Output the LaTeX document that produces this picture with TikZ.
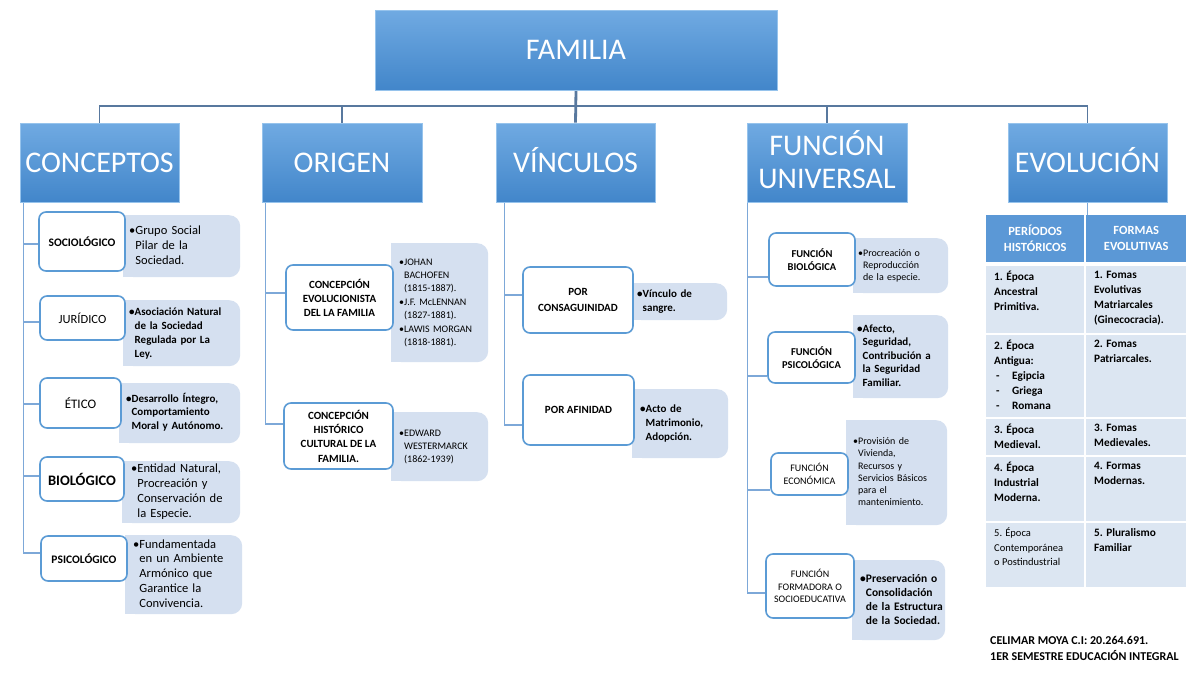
\documentclass[tikz,border=0pt]{standalone}
\usepackage{fontspec}
\setmainfont{Carlito}
\usetikzlibrary{backgrounds,calc}
\definecolor{descblue}{RGB}{213,224,240}
\definecolor{cborder}{RGB}{91,155,213}
\definecolor{treeline}{RGB}{125,168,216}
\definecolor{topline}{RGB}{88,120,158}
\definecolor{maintop}{RGB}{112,170,226}
\definecolor{mainbot}{RGB}{66,134,202}
\definecolor{mainedge}{RGB}{150,195,236}
\definecolor{hdrblue}{RGB}{91,152,214}
\definecolor{rowblue}{RGB}{220,230,242}
\newcommand\fsz[2]{\fontsize{#1}{#2}\selectfont}
\newcommand\bul[1]{\textbullet\begin{tabular}[t]{@{}l@{}}#1\end{tabular}}
\newcommand\tcell[3]{\parbox[t][#2][t]{#1}{\raggedright #3}}
\newcommand\dashit[1]{\makebox[18pt][l]{\hspace{2pt}-}#1}
\begin{document}
\begin{tikzpicture}[x=1pt,y=-1pt,
 mainbox/.style={rectangle, top color=maintop, bottom color=mainbot, draw=mainedge, line width=0.8pt, text=white, font=\fsz{30}{33}, align=center, inner sep=0pt, minimum height=79pt, minimum width=160pt},
 oneline/.style={text height=19.5pt, text depth=0pt},
 kidbox/.style={draw=cborder, line width=1.6pt, fill=white, rounded corners=7pt, align=center, inner sep=1pt},
 descbox/.style={fill=descblue, rounded corners=11pt, anchor=north west, inner ysep=0pt, align=left},
 hdrcell/.style={fill=hdrblue, text=white, anchor=north west, align=center, inner sep=0pt, font=\bfseries\fsz{12.5}{16}},
 rowcell/.style={fill=rowblue, anchor=north west, inner xsep=8pt, inner ysep=5pt, font=\bfseries\fsz{11.3}{15}},
 treeln/.style={draw=treeline, line width=1.2pt},
 topln/.style={draw=topline, line width=1.4pt},
 topthick/.style={draw=topline, line width=2.8pt},
]
\useasboundingbox (0,0) rectangle (1200,675);

% main boxes
\node[mainbox, oneline, minimum width=402pt, minimum height=80pt] (fam) at (576,50) {FAMILIA};
\node[mainbox, oneline, minimum width=159pt] (con) at (99.5,162.5) {CONCEPTOS};
\node[mainbox, oneline] (ori) at (342,162.5) {ORIGEN};
\node[mainbox, oneline, minimum width=159pt] (vin) at (575.5,162.5) {VÍNCULOS};
\node[mainbox, text height=52.5pt, text depth=0pt] (fun) at (827,162.5) {FUNCIÓN\\UNIVERSAL};
\node[mainbox, oneline, minimum width=159pt] (evo) at (1087.5,162.5) {EVOLUCIÓN};

% CONCEPTOS descriptions
\node[descbox, inner xsep=6pt, text width=105pt, minimum height=62pt, font=\fsz{12.5}{15}] (socd) at (123,215) {\bul{Grupo Social\\Pilar de la\\Sociedad.}};
\node[descbox, inner xsep=6pt, text width=105pt, minimum height=66pt, font=\bfseries\fsz{11}{14}] (jurd) at (123,300) {\bul{Asociación Natural\\de la Sociedad\\Regulada por La\\Ley.}};
\node[descbox, inner xsep=7pt, text width=107pt, minimum height=60pt, font=\bfseries\fsz{11}{13.5}] (etid) at (119,383) {\bul{Desarrollo Íntegro,\\Comportamiento\\Moral y Autónomo.}};
\node[descbox, inner xsep=9pt, text width=100pt, minimum height=62pt, font=\fsz{12.5}{15}] (biod) at (122,461) {\bul{Entidad Natural,\\Procreación y\\Conservación de\\la Especie.}};
\node[descbox, inner xsep=8pt, text width=101pt, minimum height=79pt, font=\fsz{12.5}{14.8}] (psid) at (125,535) {\bul{Fundamentada\\en un Ambiente\\Armónico que\\Garantice la\\Convivencia.}};

% CONCEPTOS children
\node[kidbox, minimum width=86pt, minimum height=59pt, font=\bfseries\fsz{11.5}{14}] (soc) at (82,241.5) {SOCIOLÓGICO};
\node[kidbox, minimum width=85pt, minimum height=44pt, font=\fsz{12.5}{15}] (jur) at (82.5,318) {JURÍDICO};
\node[kidbox, minimum width=81pt, minimum height=50pt, font=\fsz{13}{15}] (eti) at (80.5,403) {ÉTICO};
\node[kidbox, minimum width=84pt, minimum height=44pt, font=\bfseries\fsz{14.5}{17}] (bio) at (82,479) {BIOLÓGICO};
\node[kidbox, minimum width=86pt, minimum height=45pt, font=\bfseries\fsz{11.5}{14}] (psi) at (84,558.5) {PSICOLÓGICO};

% ORIGEN
\node[descbox, inner xsep=8pt, text width=81pt, minimum height=119pt, font=\fsz{10}{13}] (o1d) at (391,243) {\bul{JOHAN\\BACHOFEN\\(1815-1887).}\\\bul{J.F. McLENNAN\\(1827-1881).}\\\bul{LAWIS MORGAN\\(1818-1881).}};
\node[descbox, inner xsep=8pt, text width=81pt, minimum height=69pt, font=\fsz{10}{13}] (o2d) at (391,412) {\bul{EDWARD\\WESTERMARCK\\(1862-1939)}};
\node[kidbox, minimum width=107pt, minimum height=65pt, font=\bfseries\fsz{11}{14}] (o1) at (339.5,297.5) {CONCEPCIÓN\\EVOLUCIONISTA\\DEL LA FAMILIA};
\node[kidbox, minimum width=109pt, minimum height=66pt, font=\bfseries\fsz{11}{14.3}] (o2) at (338.5,436) {CONCEPCIÓN\\HISTÓRICO\\CULTURAL DE LA\\FAMILIA.};

% VINCULOS
\node[descbox, inner xsep=6pt, text width=84pt, minimum height=37pt, font=\bfseries\fsz{11}{13.5}] (v1d) at (631,283) {\bul{Vínculo de\\sangre.}};
\node[descbox, inner xsep=8pt, text width=80pt, minimum height=69pt, font=\bfseries\fsz{11}{14}] (v2d) at (632,389) {\bul{Acto de\\Matrimonio,\\Adopción.}};
\node[kidbox, minimum width=110pt, minimum height=66pt, font=\bfseries\fsz{11}{15.5}] (v1) at (578,300) {POR\\CONSAGUINIDAD};
\node[kidbox, minimum width=111pt, minimum height=70pt, font=\bfseries\fsz{11}{14}] (v2) at (578.5,410) {POR AFINIDAD};

% FUNCION
\node[descbox, inner xsep=5pt, text width=85pt, minimum height=55pt, font=\fsz{10}{12}] (f1d) at (853,238) {\bul{Procreación o\\Reproducción\\de la especie.}};
\node[descbox, inner xsep=4pt, text width=87pt, minimum height=83pt, font=\bfseries\fsz{11}{13.5}] (f2d) at (853,315) {\bul{Afecto,\\Seguridad,\\Contribución a\\la Seguridad\\Familiar.}};
\node[descbox, inner xsep=7pt, text width=87pt, minimum height=105pt, font=\fsz{10}{12.3}] (f3d) at (846,420) {\bul{Provisión de\\Vivienda,\\Recursos y\\Servicios Básicos\\para el\\mantenimiento.}};
\node[descbox, inner xsep=8pt, text width=77pt, minimum height=80pt, font=\bfseries\fsz{11.5}{14}] (f4d) at (852,560) {\bul{Preservación o\\Consolidación\\de la Estructura\\de la Sociedad.}};
\node[kidbox, minimum width=86pt, minimum height=53pt, font=\bfseries\fsz{10.5}{12.7}] (f1) at (812,259.5) {FUNCIÓN\\BIOLÓGICA};
\node[kidbox, minimum width=87pt, minimum height=51pt, font=\bfseries\fsz{10.5}{13.3}] (f2) at (811.5,357.5) {FUNCIÓN\\PSICOLÓGICA};
\node[kidbox, minimum width=77pt, minimum height=42pt, font=\fsz{10}{12.7}] (f3) at (809.5,474) {FUNCIÓN\\ECONÓMICA};
\node[kidbox, minimum width=88pt, minimum height=64pt, font=\fsz{10}{12.2}] (f4) at (810,586) {FUNCIÓN\\FORMADORA O\\SOCIOEDUCATIVA};

% EVOLUCION table
\node[hdrcell, minimum width=98pt, minimum height=47pt] (h1) at (986,215) {PERÍODOS\\HISTÓRICOS};
\node[hdrcell, minimum width=100pt, minimum height=47pt] (h2) at (1086,215) {FORMAS\\EVOLUTIVAS};
\node[rowcell] (r1a) at (986,266) {\tcell{82pt}{57pt}{1. Época\\Ancestral\\Primitiva.}};
\node[rowcell] (r1b) at (1086,266) {\tcell{84pt}{57pt}{1. Fomas\\Evolutivas\\Matriarcales\\(Ginecocracia).}};
\node[rowcell] (r2a) at (986,335) {\tcell{82pt}{72pt}{2. Época\\Antigua:\\\dashit{Egipcia}\\\dashit{Griega}\\\dashit{Romana}}};
\node[rowcell] (r2b) at (1086,335) {\tcell{84pt}{72pt}{2. Fomas\\Patriarcales.}};
\node[rowcell] (r3a) at (986,419) {\tcell{82pt}{26pt}{3. Época\\Medieval.}};
\node[rowcell] (r3b) at (1086,419) {\tcell{84pt}{26pt}{3. Fomas\\Medievales.}};
\node[rowcell] (r4a) at (986,457) {\tcell{82pt}{54pt}{4. Época\\Industrial\\Moderna.}};
\node[rowcell] (r4b) at (1086,457) {\tcell{84pt}{54pt}{4. Formas\\Modernas.}};
\node[rowcell] (r5a) at (986,523) {\tcell{82pt}{54pt}{\mdseries\fsz{10.5}{14.3}5. Época\\Contemporánea\\o Postindustrial}};
\node[rowcell] (r5b) at (1086,523) {\tcell{84pt}{54pt}{5. Pluralismo\\Familiar}};

% footer
\node[anchor=north west, align=left, inner sep=0pt, font=\bfseries\fsz{12}{16}] (foot) at (990,636) {CELIMAR MOYA C.I: 20.264.691.\\1ER SEMESTRE EDUCACIÓN INTEGRAL};

\begin{scope}[on background layer]
 \fill[white] (0,0) rectangle (1200,675);
 % top hierarchy
 \coordinate (bar) at (576,106);
 \draw[topln] (con.north) |- (bar) -| (evo.north);
 \draw[topln] (ori.north) -- (ori.north |- bar);
 \draw[topln] (fun.north) -- (fun.north |- bar);
 \draw[topthick] (fam.south) -- (vin.north);
 \draw[treeln] (evo.south) -- (evo.south |- h1.north);
 % CONCEPTOS tree
 \draw[treeln] ([xshift=3.5pt]con.south west) |- ($(soc.west)+(0,2.5)$);
 \draw[treeln] ([xshift=3.5pt]con.south west) |- ($(jur.west)+(0,4)$);
 \draw[treeln] ([xshift=3.5pt]con.south west) |- ($(eti.west)+(0,1)$);
 \draw[treeln] ([xshift=3.5pt]con.south west) |- ($(bio.west)+(0,-3)$);
 \draw[treeln] ([xshift=3.5pt]con.south west) |- ($(psi.west)+(0,-5.5)$);
 % ORIGEN tree
 \draw[treeln] ([xshift=4pt]ori.south west) |- ($(o1.west)+(0,-4.5)$);
 \draw[treeln] ([xshift=4pt]ori.south west) |- ($(o2.west)+(0,-12)$);
 % VINCULOS tree
 \draw[treeln] ([xshift=9pt]vin.south west) |- ($(v1.west)+(0,-5)$);
 \draw[treeln] ([xshift=9pt]vin.south west) |- ($(v2.west)+(0,15)$);
 % FUNCION tree
 \draw[treeln] ([xshift=1pt]fun.south west) |- ($(f1.west)+(0,17.5)$);
 \draw[treeln] ([xshift=1pt]fun.south west) |- ($(f2.west)+(0,18.5)$);
 \draw[treeln] ([xshift=1pt]fun.south west) |- ($(f3.west)+(0,16)$);
 \draw[treeln] ([xshift=1pt]fun.south west) |- ($(f4.west)+(0,7)$);
 % square left corners of description boxes
 \foreach \d in {socd,jurd,etid,biod,psid,o1d,o2d,v1d,v2d,f1d,f2d,f3d,f4d}
   \fill[descblue] (\d.north west) rectangle ([xshift=15pt]\d.south west);
\end{scope}
\end{tikzpicture}
\end{document}
